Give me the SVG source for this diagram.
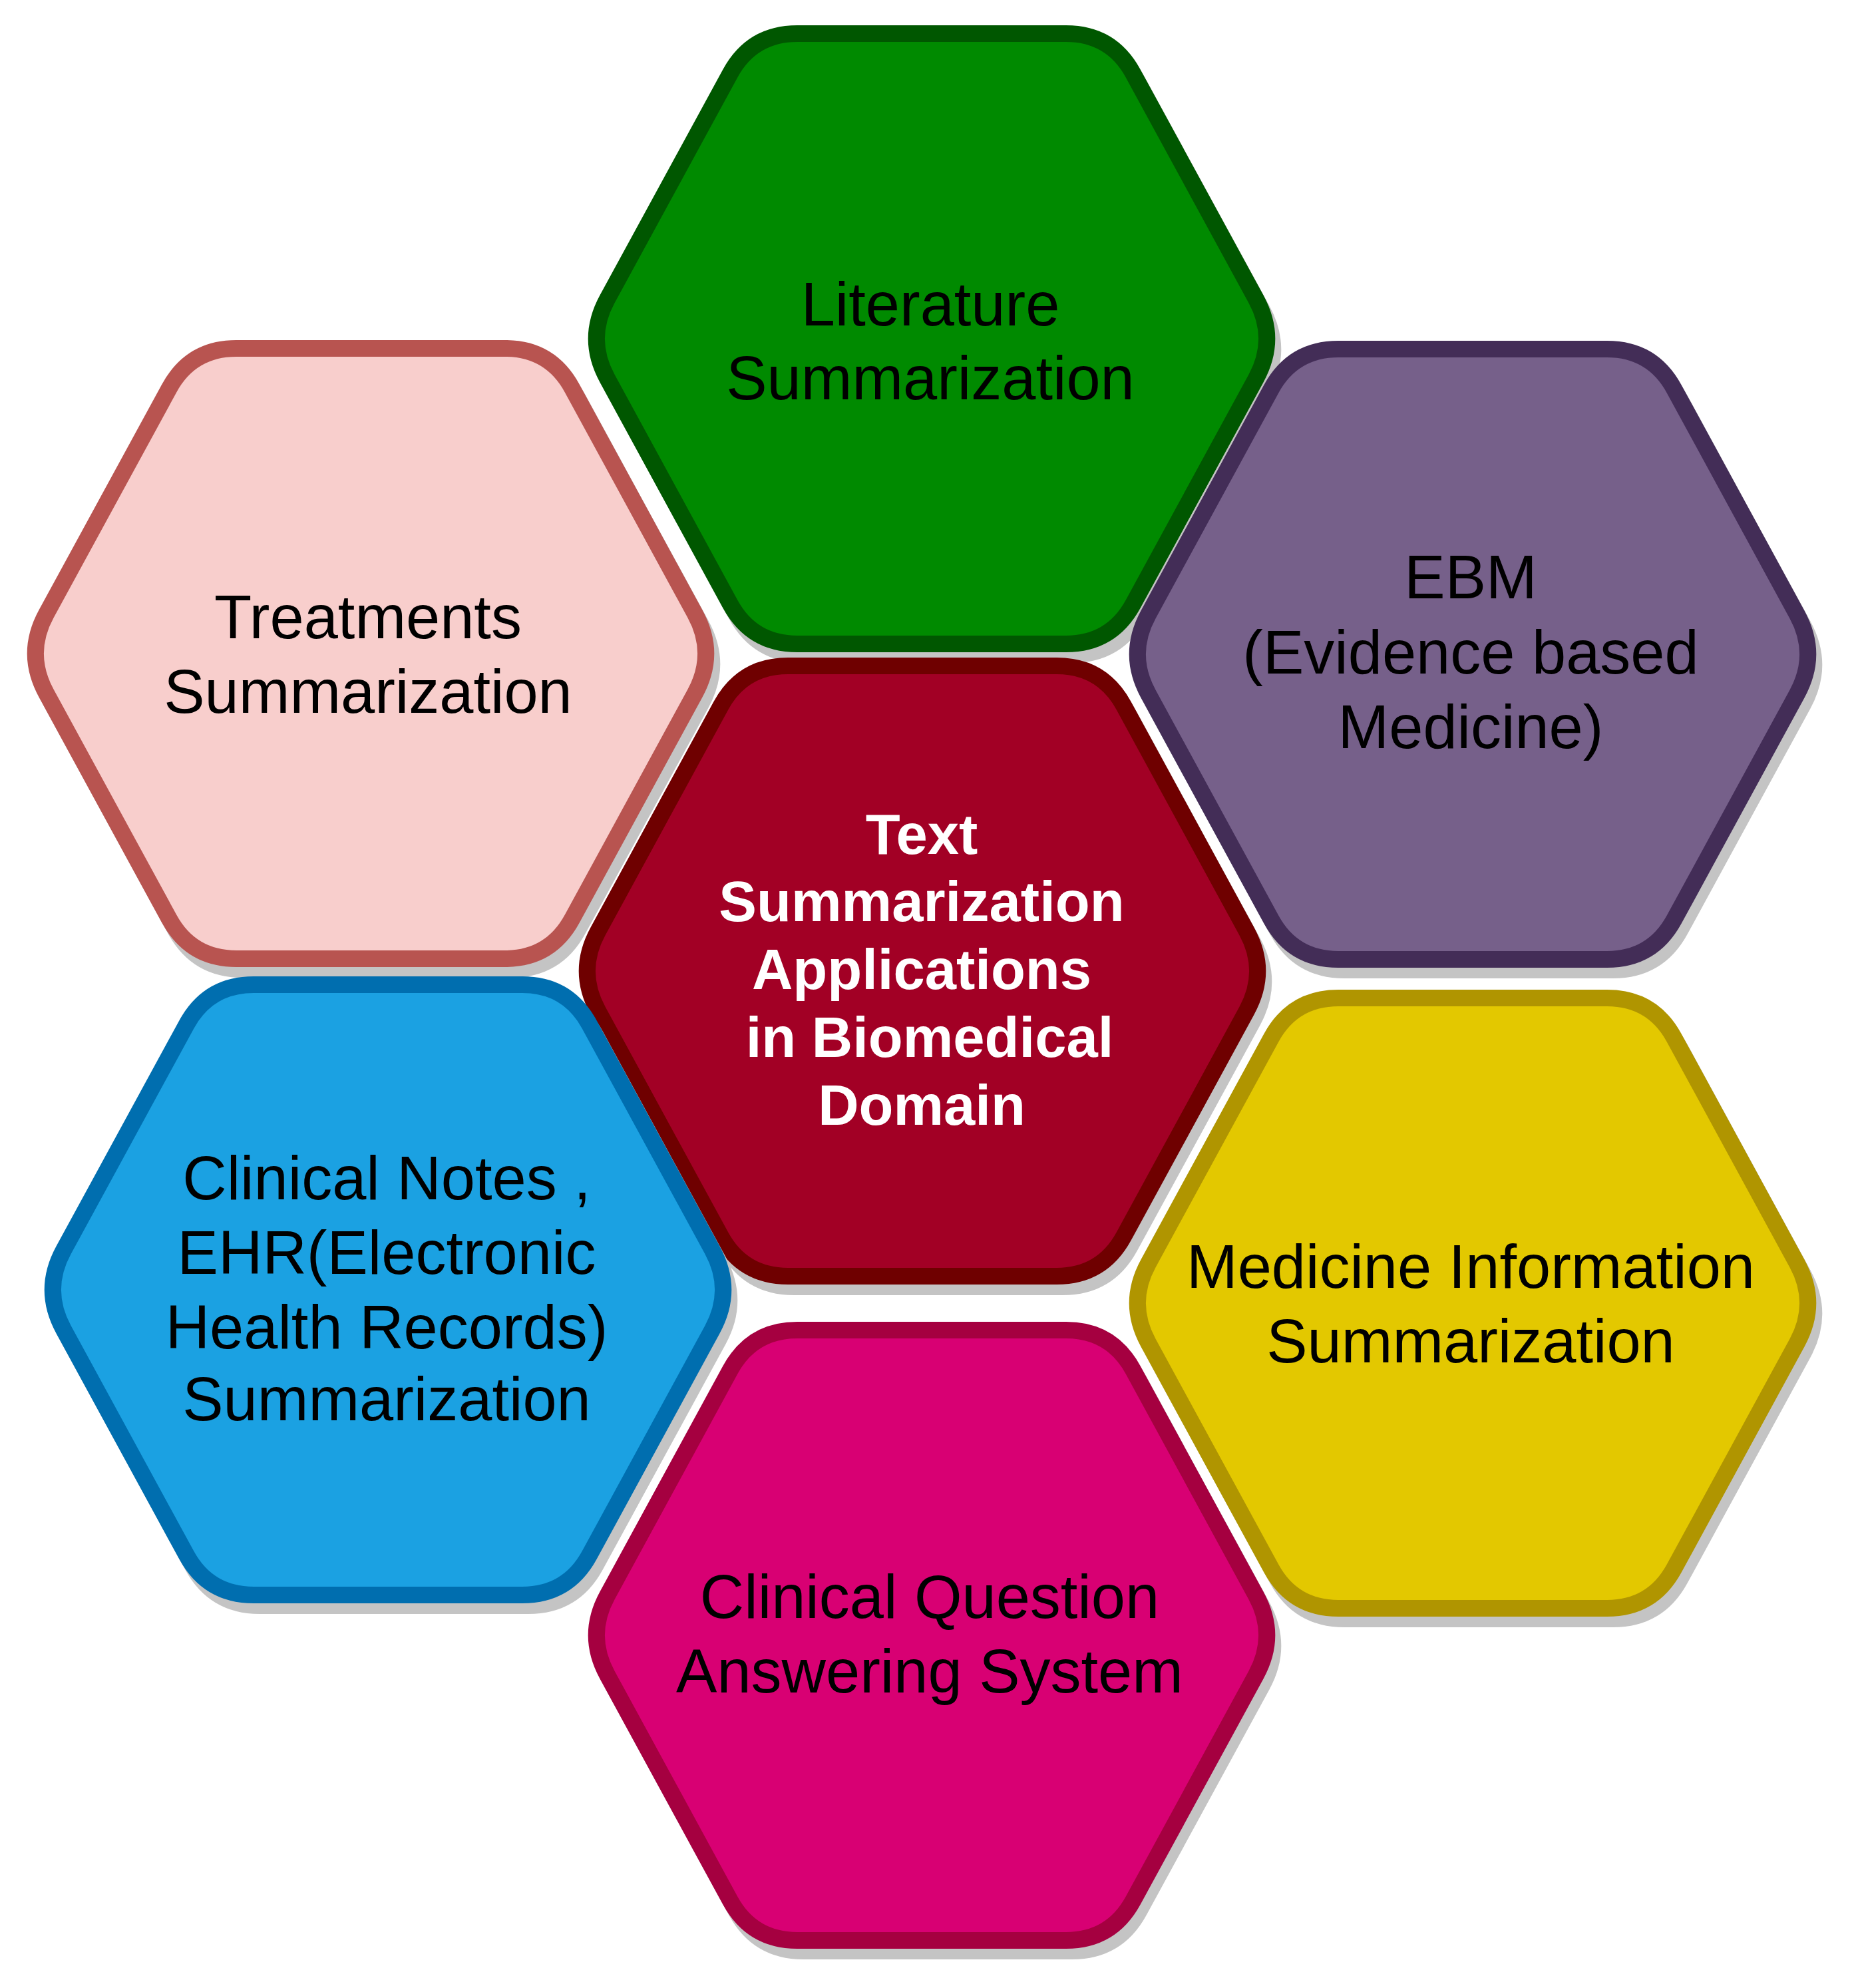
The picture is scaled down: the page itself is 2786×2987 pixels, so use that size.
<svg xmlns="http://www.w3.org/2000/svg" xmlns:xlink="http://www.w3.org/1999/xlink" width="2786" height="2987" viewBox="0 0 2786 2987">
  <style>
    .hex { stroke-width: 25; stroke-linejoin: round; }
    .shadow { fill: #c4c4c4; stroke: #c4c4c4; stroke-width: 25; }
    .lbl { font-family: "Liberation Sans", Arial, sans-serif; font-size: 92px; fill: #000000; text-anchor: middle; }
    .center-lbl { font-family: "Liberation Sans", Arial, sans-serif; font-size: 85px; font-weight: bold; fill: #ffffff; text-anchor: middle; }
    .green { fill: #008a00; stroke: #005700; }
    .pink { fill: #f8cecc; stroke: #b85450; }
    .purple { fill: #76608a; stroke: #432d57; }
    .crimson { fill: #a20025; stroke: #6f0000; }
    .blue { fill: #1ba1e2; stroke: #006eaf; }
    .yellow { fill: #e3c800; stroke: #b09500; }
    .magenta { fill: #d80073; stroke: #a50040; }
  </style>
  <defs>
    <path id="hexShape" d="M -202 -458.5 L 202 -458.5 Q 270 -458.5 302.6 -398.8 L 487.4 -59.7 Q 520 0 487.4 59.7 L 302.6 398.8 Q 270 458.5 202 458.5 L -202 458.5 Q -270 458.5 -302.6 398.8 L -487.4 59.7 Q -520 0 -487.4 -59.7 L -302.6 -398.8 Q -270 -458.5 -202 -458.5 Z"/>
  </defs>
  <rect x="0" y="0" width="2786" height="2987" fill="#ffffff"/>

  <g id="node-literature">
    <use xlink:href="#hexShape" href="#hexShape" class="shadow" transform="translate(1409,525)"/>
    <use xlink:href="#hexShape" href="#hexShape" class="hex green" transform="translate(1400,509)"/>
    <text class="lbl" x="1398" y="489">Literature</text>
    <text class="lbl" x="1398" y="600">Summarization</text>
  </g>

  <g id="node-treatments">
    <use xlink:href="#hexShape" href="#hexShape" class="shadow" transform="translate(566,998)"/>
    <use xlink:href="#hexShape" href="#hexShape" class="hex pink" transform="translate(557,982)"/>
    <text class="lbl" x="553" y="959">Treatments</text>
    <text class="lbl" x="553" y="1071">Summarization</text>
  </g>

  <g id="node-ebm">
    <use xlink:href="#hexShape" href="#hexShape" class="shadow" transform="translate(2222,999)"/>
    <use xlink:href="#hexShape" href="#hexShape" class="hex purple" transform="translate(2213,983)"/>
    <text class="lbl" x="2210" y="899">EBM</text>
    <text class="lbl" x="2210" y="1012">(Evidence based</text>
    <text class="lbl" x="2210" y="1124">Medicine)</text>
  </g>

  <g id="node-center">
    <use xlink:href="#hexShape" href="#hexShape" class="shadow" transform="translate(1395,1475)"/>
    <use xlink:href="#hexShape" href="#hexShape" class="hex crimson" transform="translate(1386,1459)"/>
    <text class="center-lbl" x="1385" y="1283">Text</text>
    <text class="center-lbl" x="1385" y="1384">Summarization</text>
    <text class="center-lbl" x="1385" y="1486">Applications</text>
    <text class="center-lbl" x="1397" y="1588">in Biomedical</text>
    <text class="center-lbl" x="1385" y="1690">Domain</text>
  </g>

  <g id="node-clinical-notes">
    <use xlink:href="#hexShape" href="#hexShape" class="shadow" transform="translate(592,1954)"/>
    <use xlink:href="#hexShape" href="#hexShape" class="hex blue" transform="translate(583,1938)"/>
    <text class="lbl" x="581" y="1802">Clinical Notes ,</text>
    <text class="lbl" x="581" y="1914">EHR(Electronic</text>
    <text class="lbl" x="581" y="2026">Health Records)</text>
    <text class="lbl" x="581" y="2134">Summarization</text>
  </g>

  <g id="node-medicine-info">
    <use xlink:href="#hexShape" href="#hexShape" class="shadow" transform="translate(2222,1974)"/>
    <use xlink:href="#hexShape" href="#hexShape" class="hex yellow" transform="translate(2213,1958)"/>
    <text class="lbl" x="2210" y="1935">Medicine Information</text>
    <text class="lbl" x="2210" y="2047">Summarization</text>
  </g>

  <g id="node-clinical-qa">
    <use xlink:href="#hexShape" href="#hexShape" class="shadow" transform="translate(1409,2473)"/>
    <use xlink:href="#hexShape" href="#hexShape" class="hex magenta" transform="translate(1400,2457)"/>
    <text class="lbl" x="1397" y="2431">Clinical Question</text>
    <text class="lbl" x="1397" y="2543">Answering System</text>
  </g>
</svg>
